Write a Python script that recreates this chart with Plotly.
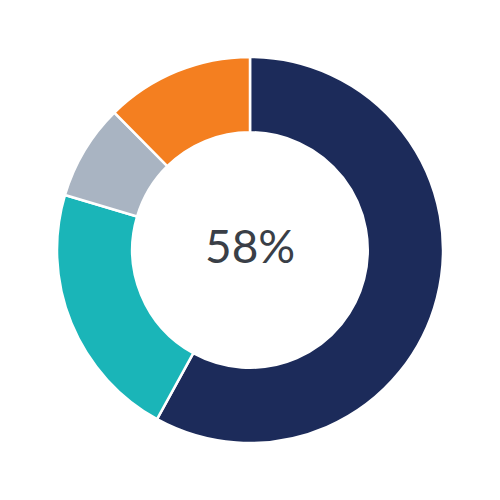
import plotly.graph_objects as go

labels = ["A", "B", "C", "D"]
values = [58, 21.6, 8, 12.4]
colors = ["#1c2b5a", "#1ab5b8", "#a9b4c2", "#f47f20"]
center_text = "58%"

fig = go.Figure(go.Pie(
    labels=labels,
    values=values,
    hole=0.61,
    sort=False,
    direction="clockwise",
    rotation=0,
    textinfo="none",
    hoverinfo="label+percent",
    marker=dict(colors=colors, line=dict(color="white", width=2.5)),
))

fig.update_layout(
    width=500, height=500,
    margin=dict(l=49, r=65, t=49, b=65),
    showlegend=False,
    paper_bgcolor="white",
    annotations=[dict(
        text=center_text, x=0.5, y=0.5, xref="paper", yref="paper",
        showarrow=False, yshift=5,
        font=dict(family="Lato, Open Sans, sans-serif", size=46, color="#3a3f47"),
    )],
)

fig.write_html("out.html")
